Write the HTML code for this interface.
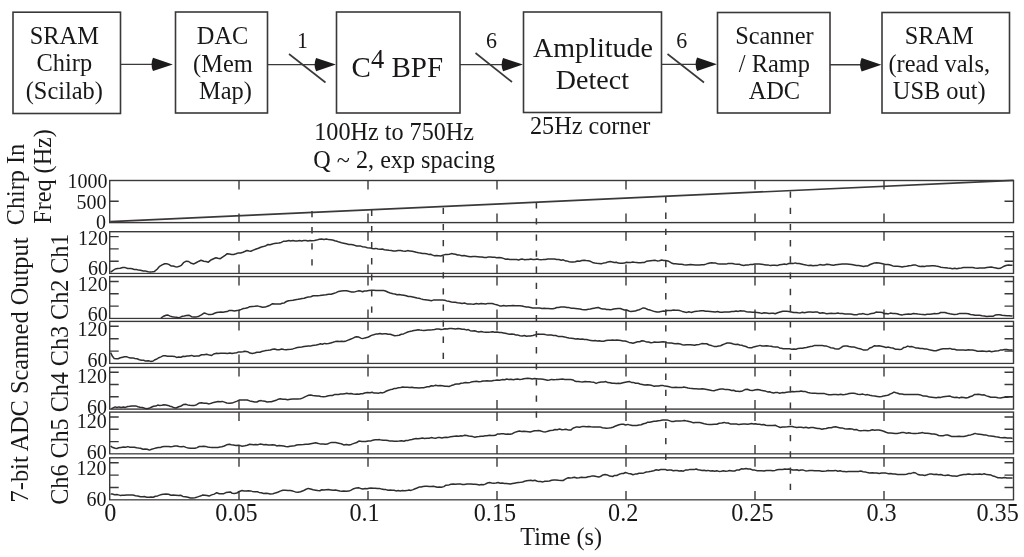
<!DOCTYPE html>
<html><head><meta charset="utf-8"><title>C4 BPF chirp response</title>
<style>
html,body{margin:0;padding:0;background:#fff;}
body{width:1024px;height:557px;overflow:hidden;}
svg text{font-family:"Liberation Serif", "Times New Roman", serif;fill:#1a1718;}
#fig{filter:blur(0.35px);}
</style></head>
<body>
<svg id="fig" width="1024" height="557" viewBox="0 0 1024 557">
<rect x="13.0" y="12.2" width="107.5" height="101.3" fill="none" stroke="#3b3839" stroke-width="1.6"/>
<rect x="175.5" y="12.0" width="92.0" height="101.0" fill="none" stroke="#3b3839" stroke-width="1.6"/>
<rect x="336.5" y="12.0" width="123.5" height="101.0" fill="none" stroke="#3b3839" stroke-width="1.6"/>
<rect x="523.5" y="12.0" width="138.0" height="100.5" fill="none" stroke="#3b3839" stroke-width="1.6"/>
<rect x="717.5" y="12.5" width="112.5" height="100.5" fill="none" stroke="#3b3839" stroke-width="1.6"/>
<rect x="882.0" y="12.5" width="127.5" height="100.5" fill="none" stroke="#3b3839" stroke-width="1.6"/>
<line x1="120.5" y1="64.4" x2="154.0" y2="64.4" stroke="#3b3839" stroke-width="1.35"/>
<path d="M172.8 64.4L153.0 57.7Q150.0 64.4 153.0 71.1Z" fill="#1c1a1a"/>
<line x1="267.5" y1="64.6" x2="317.1" y2="64.6" stroke="#3b3839" stroke-width="1.35"/>
<path d="M335.9 64.6L316.1 57.9Q313.1 64.6 316.1 71.3Z" fill="#1c1a1a"/>
<line x1="460.0" y1="64.6" x2="504.1" y2="64.6" stroke="#3b3839" stroke-width="1.35"/>
<path d="M522.9 64.6L503.1 57.9Q500.1 64.6 503.1 71.3Z" fill="#1c1a1a"/>
<line x1="661.5" y1="64.3" x2="698.1" y2="64.3" stroke="#3b3839" stroke-width="1.35"/>
<path d="M716.9 64.3L697.1 57.6Q694.1 64.3 697.1 71.0Z" fill="#1c1a1a"/>
<line x1="830.0" y1="64.7" x2="862.6" y2="64.7" stroke="#3b3839" stroke-width="1.35"/>
<path d="M881.4 64.7L861.6 58.0Q858.6 64.7 861.6 71.4Z" fill="#1c1a1a"/>
<line x1="289.0" y1="54.0" x2="325.5" y2="82.5" stroke="#3b3839" stroke-width="1.6"/>
<line x1="475.5" y1="53.0" x2="512.0" y2="82.0" stroke="#3b3839" stroke-width="1.6"/>
<line x1="667.5" y1="54.0" x2="704.0" y2="82.5" stroke="#3b3839" stroke-width="1.6"/>
<text transform="translate(64.3 43.9) scale(1 1.060)" font-size="24.4" text-anchor="middle">SRAM</text>
<text transform="translate(64.3 71.4) scale(1 1.060)" font-size="24.4" text-anchor="middle">Chirp</text>
<text transform="translate(64.3 99.0) scale(1 1.060)" font-size="24.4" text-anchor="middle">(Scilab)</text>
<text transform="translate(222.6 44.2) scale(1 1.060)" font-size="24.4" text-anchor="middle">DAC</text>
<text transform="translate(222.9 72.0) scale(1 1.060)" font-size="24.4" text-anchor="middle">(Mem</text>
<text transform="translate(225.4 99.2) scale(1 1.060)" font-size="24.4" text-anchor="middle">Map)</text>
<text transform="translate(351.6 76.9) scale(1 1.03)" font-size="29" text-anchor="start">C<tspan dy="-8.2" font-size="26.5">4</tspan><tspan dy="8.2"> BPF</tspan></text>
<text x="593.0" y="57.0" font-size="28.0" text-anchor="middle">Amplitude</text>
<text x="592.4" y="88.8" font-size="28.0" text-anchor="middle">Detect</text>
<text transform="translate(774.4 43.9) scale(1 1.060)" font-size="24.4" text-anchor="middle">Scanner</text>
<text transform="translate(774.4 72.0) scale(1 1.060)" font-size="24.4" text-anchor="middle">/ Ramp</text>
<text transform="translate(774.4 99.2) scale(1 1.060)" font-size="24.4" text-anchor="middle">ADC</text>
<text transform="translate(939.2 43.9) scale(1 1.060)" font-size="24.4" text-anchor="middle">SRAM</text>
<text transform="translate(939.2 72.0) scale(1 1.060)" font-size="24.4" text-anchor="middle">(read vals,</text>
<text transform="translate(939.2 99.2) scale(1 1.060)" font-size="24.4" text-anchor="middle">USB out)</text>
<text transform="translate(302.5 47.5) scale(1 1.060)" font-size="22.0" text-anchor="middle">1</text>
<text transform="translate(491.5 47.5) scale(1 1.060)" font-size="22.0" text-anchor="middle">6</text>
<text transform="translate(681.8 47.5) scale(1 1.060)" font-size="22.0" text-anchor="middle">6</text>
<text transform="translate(314.2 140.0) scale(1 1.060)" font-size="24.2" text-anchor="start">100Hz to 750Hz</text>
<text transform="translate(313.3 167.9) scale(1 1.060)" font-size="24.2" text-anchor="start">Q ~ 2, exp spacing</text>
<text transform="translate(530.0 134.0) scale(1 1.060)" font-size="24.2" text-anchor="start">25Hz corner</text>
<text transform="translate(23.8 225.2) rotate(-90) scale(1 1.060)" font-size="24.2">Chirp In</text>
<text transform="translate(51.0 223.8) rotate(-90) scale(1 1.060)" font-size="24.2">Freq (Hz)</text>
<text transform="translate(27.7 502.4) rotate(-90) scale(1 1.060)" font-size="24.4">7-bit ADC Scanned Output</text>
<text transform="translate(67.6 504.7) rotate(-90) scale(1 1.060)" font-size="24.1">Ch6 Ch5 Ch4 Ch3 Ch2 Ch1</text>
<rect x="109.7" y="180.5" width="903.8" height="42.1" fill="none" stroke="#3b3839" stroke-width="1.4"/>
<path d="M239.0 180.5v9.0M239.0 222.6v-9.0M368.0 180.5v9.0M368.0 222.6v-9.0M497.0 180.5v9.0M497.0 222.6v-9.0M626.0 180.5v9.0M626.0 222.6v-9.0M755.0 180.5v9.0M755.0 222.6v-9.0M884.0 180.5v9.0M884.0 222.6v-9.0M109.7 201.2h9.0M1013.5 201.2h-9.0" stroke="#3b3839" stroke-width="1.4" fill="none"/>
<line x1="110.2" y1="221.7" x2="1013.5" y2="180.4" stroke="#3b3839" stroke-width="1.7"/>
<text x="107.5" y="187.8" font-size="20.0" text-anchor="end">1000</text>
<text x="106.6" y="208.8" font-size="20.0" text-anchor="end">500</text>
<text x="106.0" y="228.6" font-size="20.0" text-anchor="end">0</text>
<svg x="0" y="228.7" width="1024" height="45.6" viewBox="0 228.7 1024 45.6" overflow="hidden">
<rect x="109.7" y="231.7" width="903.8" height="41.8" fill="none" stroke="#3b3839" stroke-width="1.4"/>
<path d="M239.0 231.7v9.0M239.0 273.5v-9.0M368.0 231.7v9.0M368.0 273.5v-9.0M497.0 231.7v9.0M497.0 273.5v-9.0M626.0 231.7v9.0M626.0 273.5v-9.0M755.0 231.7v9.0M755.0 273.5v-9.0M884.0 231.7v9.0M884.0 273.5v-9.0M109.7 261.2h9.0M1013.5 261.2h-9.0M109.7 248.9h9.0M1013.5 248.9h-9.0M109.7 236.6h9.0M1013.5 236.6h-9.0" stroke="#3b3839" stroke-width="1.4" fill="none"/>
<path d="M110.6 272.2 L112.4 270.9 L115.2 269.0 L117.5 268.6 L120.2 268.2 L122.8 267.6 L125.2 267.6 L127.7 268.5 L130.4 268.4 L132.3 268.7 L134.4 269.6 L136.5 269.5 L138.6 270.1 L140.5 270.2 L143.3 270.9 L145.8 271.1 L148.2 271.8 L150.4 272.1 L152.5 271.8 L154.5 271.4 L157.1 269.2 L159.6 266.3 L162.1 264.9 L164.7 263.7 L166.7 263.8 L168.8 264.4 L171.0 265.9 L173.2 266.1 L175.5 266.7 L177.4 266.9 L179.4 266.3 L181.2 265.4 L183.5 262.7 L186.3 261.2 L188.7 261.5 L191.3 263.3 L193.9 263.9 L196.5 262.5 L199.0 261.2 L201.0 260.3 L203.8 261.2 L206.0 261.6 L208.3 262.2 L211.4 259.7 L213.6 258.7 L215.9 257.7 L217.9 258.3 L220.3 258.7 L222.5 257.2 L225.1 255.4 L227.3 253.7 L229.4 254.0 L231.7 254.5 L233.7 254.4 L236.0 253.8 L238.4 252.9 L240.6 253.0 L243.0 252.2 L245.2 251.3 L247.0 250.5 L249.1 251.0 L250.8 251.2 L253.3 250.1 L255.5 249.3 L258.4 248.3 L260.7 247.2 L263.2 246.6 L266.0 245.7 L268.0 244.5 L270.1 244.7 L272.4 244.0 L274.5 243.4 L276.2 243.2 L278.9 242.9 L281.2 242.4 L283.4 241.3 L285.9 241.3 L288.9 240.5 L290.8 241.0 L292.9 240.6 L295.1 241.0 L297.4 241.0 L299.6 240.6 L301.6 241.0 L303.8 240.5 L305.9 240.4 L308.0 240.9 L309.9 240.6 L311.7 240.7 L314.4 240.5 L316.7 240.1 L319.3 239.3 L321.6 239.0 L324.0 239.5 L326.4 239.0 L328.5 239.6 L330.7 239.8 L332.6 240.0 L334.8 240.7 L336.9 241.3 L339.2 242.1 L341.5 242.7 L343.7 243.2 L346.3 243.8 L348.8 244.4 L351.3 244.5 L354.0 245.1 L356.7 246.0 L358.9 246.1 L360.7 246.1 L362.6 246.7 L364.7 246.9 L367.3 247.7 L370.2 247.9 L372.0 248.5 L373.9 248.7 L375.8 248.4 L378.0 249.0 L380.4 249.2 L382.3 249.0 L384.4 249.7 L386.6 249.9 L388.9 250.3 L391.2 250.4 L393.4 250.9 L395.6 251.1 L398.1 250.6 L400.5 250.6 L403.0 251.0 L405.4 251.2 L407.6 250.6 L409.6 250.9 L412.2 251.3 L414.3 251.7 L416.3 252.3 L418.5 252.8 L420.4 253.1 L422.4 253.5 L424.5 253.5 L426.6 253.8 L428.6 254.4 L430.6 254.2 L432.6 255.1 L434.5 255.7 L436.6 255.6 L438.8 255.7 L440.8 256.0 L442.8 255.2 L445.0 254.6 L447.2 254.4 L449.4 254.2 L451.5 253.6 L453.6 253.9 L455.5 254.2 L457.5 255.0 L459.6 255.1 L461.8 255.8 L464.2 255.6 L466.2 256.0 L468.4 256.4 L470.7 256.8 L473.1 256.6 L475.5 256.6 L477.8 256.7 L480.0 257.1 L482.0 257.0 L484.4 257.5 L486.5 257.5 L488.5 256.9 L490.5 256.9 L492.5 257.3 L494.7 257.3 L496.8 257.7 L498.9 257.6 L501.2 257.8 L503.4 258.4 L505.7 259.2 L507.8 259.1 L509.9 259.4 L512.2 259.6 L514.4 259.6 L516.6 259.6 L518.6 260.0 L520.7 259.3 L522.6 259.1 L524.8 259.8 L526.9 259.6 L528.8 259.5 L530.8 259.0 L532.8 259.4 L534.9 259.4 L537.0 259.0 L539.0 259.5 L541.0 259.7 L542.9 259.6 L545.4 259.4 L547.7 258.9 L550.5 258.9 L552.4 258.9 L554.4 258.9 L556.7 259.5 L559.0 259.5 L561.2 260.2 L563.2 259.8 L565.4 260.9 L567.3 261.1 L569.3 261.7 L571.2 262.0 L573.4 262.1 L575.4 261.8 L577.4 261.0 L579.6 261.3 L581.8 260.5 L584.0 260.3 L586.1 260.6 L588.2 260.8 L590.4 261.3 L592.5 262.4 L594.7 262.9 L596.8 263.2 L598.8 263.4 L601.2 263.8 L603.5 263.1 L605.8 262.8 L608.0 261.9 L610.2 261.6 L612.3 261.9 L614.3 262.4 L616.3 262.2 L618.3 263.1 L620.3 263.3 L622.3 263.2 L624.4 263.1 L626.4 262.2 L628.5 262.5 L630.5 262.6 L632.5 262.0 L634.5 262.3 L636.6 262.5 L638.6 262.8 L640.6 262.7 L642.6 262.5 L644.5 262.4 L646.4 261.3 L648.5 261.0 L650.8 260.7 L652.7 260.5 L654.9 260.3 L657.1 260.9 L659.4 260.7 L661.6 260.0 L663.7 260.4 L665.5 260.4 L667.9 260.9 L669.7 261.8 L671.4 263.0 L673.6 263.7 L675.4 263.8 L677.4 263.9 L679.5 264.3 L681.7 264.3 L684.0 264.7 L686.3 265.0 L688.4 264.8 L690.6 264.6 L692.9 264.7 L695.3 264.9 L697.5 265.1 L699.7 265.1 L701.6 264.7 L704.0 264.7 L706.0 264.1 L707.9 263.4 L709.8 262.9 L711.7 262.8 L713.7 263.0 L715.7 263.1 L717.6 263.7 L719.7 263.9 L721.9 263.9 L723.9 264.1 L726.0 264.1 L728.2 263.5 L730.4 263.6 L732.5 263.5 L734.6 263.9 L737.0 264.2 L739.3 264.2 L741.5 265.1 L743.7 265.4 L746.0 265.1 L748.2 265.1 L750.4 264.4 L752.6 264.4 L754.9 263.9 L757.4 263.9 L759.4 264.0 L761.4 264.2 L763.6 264.6 L765.8 264.9 L768.0 264.9 L770.3 265.6 L772.7 265.2 L774.9 265.2 L777.2 265.6 L779.6 264.7 L782.0 264.4 L784.4 264.1 L786.6 264.4 L788.7 263.5 L790.5 263.2 L793.2 263.6 L795.2 262.9 L796.9 263.5 L799.1 263.5 L801.2 264.0 L803.5 264.6 L805.8 264.9 L808.3 265.6 L810.8 265.2 L813.0 265.8 L815.2 265.5 L817.6 265.4 L819.9 264.6 L822.2 264.9 L824.3 264.9 L826.8 264.3 L829.1 264.6 L831.4 264.9 L833.6 265.3 L835.7 264.8 L838.0 264.5 L840.1 264.2 L842.2 264.1 L844.8 264.1 L846.9 264.0 L849.2 264.2 L851.7 264.6 L854.2 265.0 L856.5 265.4 L858.6 265.4 L861.3 265.9 L863.6 266.4 L865.7 265.9 L867.7 265.9 L870.1 264.5 L872.2 263.7 L874.6 262.9 L876.7 262.8 L879.0 263.0 L881.4 263.4 L883.7 264.0 L885.9 264.6 L888.1 264.5 L890.4 265.0 L892.8 265.9 L895.0 266.3 L897.3 266.3 L899.8 266.5 L902.1 266.9 L904.3 266.5 L906.7 266.3 L909.0 265.8 L911.2 265.5 L913.4 265.1 L915.7 265.1 L917.9 265.9 L920.2 266.5 L922.5 266.2 L924.7 266.5 L926.8 265.9 L929.1 266.0 L931.7 265.8 L933.7 265.7 L936.0 266.1 L938.4 266.4 L940.8 267.2 L943.2 267.6 L945.4 267.7 L947.9 268.1 L950.2 268.2 L952.5 268.7 L954.7 268.2 L956.8 268.8 L959.1 268.2 L961.3 267.9 L963.4 267.5 L966.0 267.6 L968.0 267.6 L970.3 267.5 L972.7 267.6 L975.1 268.0 L977.5 268.2 L979.7 267.9 L982.2 268.1 L984.5 268.1 L986.8 267.5 L989.0 267.2 L991.1 267.1 L993.6 267.6 L996.0 267.9 L998.2 268.4 L1000.2 268.3 L1002.4 267.2 L1004.1 266.2 L1006.0 265.5 L1008.4 265.1 L1010.8 265.3 L1012.5 265.3" fill="none" stroke="#302d2e" stroke-width="1.50" stroke-linejoin="round"/>
</svg>
<text x="108.0" y="244.5" font-size="20.0" text-anchor="end">120</text>
<text x="108.0" y="274.8" font-size="20.0" text-anchor="end">60</text>
<svg x="0" y="273.6" width="1024" height="45.7" viewBox="0 273.6 1024 45.7" overflow="hidden">
<rect x="109.7" y="276.6" width="903.8" height="41.9" fill="none" stroke="#3b3839" stroke-width="1.4"/>
<path d="M239.0 276.6v9.0M239.0 318.5v-9.0M368.0 276.6v9.0M368.0 318.5v-9.0M497.0 276.6v9.0M497.0 318.5v-9.0M626.0 276.6v9.0M626.0 318.5v-9.0M755.0 276.6v9.0M755.0 318.5v-9.0M884.0 276.6v9.0M884.0 318.5v-9.0M109.7 306.1h9.0M1013.5 306.1h-9.0M109.7 293.8h9.0M1013.5 293.8h-9.0M109.7 281.5h9.0M1013.5 281.5h-9.0" stroke="#3b3839" stroke-width="1.4" fill="none"/>
<path d="M160.9 318.1 L163.1 316.5 L166.0 315.3 L168.0 315.1 L170.2 316.1 L172.3 316.7 L174.3 317.1 L176.4 317.3 L178.6 317.7 L180.4 317.1 L182.4 316.2 L184.3 316.0 L186.3 315.6 L188.9 315.2 L191.6 316.7 L193.9 317.1 L196.6 316.9 L199.0 316.2 L201.4 314.8 L204.0 313.1 L206.0 313.6 L208.2 314.4 L210.4 314.4 L212.5 314.2 L214.6 313.3 L216.7 312.5 L218.8 312.2 L221.0 312.1 L223.1 312.2 L225.2 311.8 L227.2 311.6 L229.4 310.4 L231.9 310.4 L234.5 311.0 L237.0 310.5 L239.2 310.2 L241.3 309.4 L243.4 308.5 L245.5 308.2 L247.5 307.8 L249.7 306.7 L252.2 306.4 L254.8 306.3 L257.4 305.9 L259.9 306.6 L262.5 307.2 L265.0 307.1 L267.5 306.2 L270.1 305.2 L272.6 303.7 L275.0 304.0 L277.5 304.1 L280.2 304.1 L282.1 303.2 L284.2 302.9 L286.4 301.5 L288.5 300.7 L290.4 300.6 L293.0 300.3 L295.4 299.7 L298.0 299.3 L299.9 298.9 L302.0 298.5 L304.2 298.3 L306.3 297.5 L308.2 297.1 L310.8 296.7 L313.2 295.8 L315.8 295.7 L317.7 295.7 L319.8 295.5 L321.9 295.2 L324.0 294.9 L325.9 294.8 L328.6 294.2 L331.1 294.3 L333.5 293.5 L336.1 292.6 L338.6 291.4 L341.2 291.0 L343.8 290.8 L346.5 290.7 L348.8 291.3 L351.5 291.9 L353.9 292.1 L356.5 291.4 L358.9 290.8 L360.5 291.0 L362.6 291.7 L364.3 291.0 L366.4 291.0 L368.8 290.5 L371.5 290.2 L373.6 290.2 L376.0 290.4 L378.6 290.4 L381.1 290.5 L383.5 290.5 L385.5 291.0 L388.2 292.3 L390.2 293.0 L393.1 293.7 L394.9 294.0 L397.0 294.8 L399.2 294.6 L401.6 294.9 L403.9 295.2 L406.2 295.8 L408.3 296.5 L410.6 296.5 L412.8 296.9 L415.0 297.4 L417.0 297.9 L419.1 298.3 L421.0 298.9 L423.2 299.5 L425.2 299.7 L427.2 299.9 L429.1 300.3 L431.2 300.7 L433.4 300.1 L435.8 300.0 L438.2 300.1 L440.5 300.0 L442.6 300.0 L444.8 300.3 L446.7 300.9 L448.7 301.2 L451.5 301.9 L453.3 302.3 L455.3 302.2 L457.4 302.8 L459.7 303.0 L462.1 303.4 L464.5 303.0 L466.9 303.9 L469.3 303.9 L471.5 304.1 L473.8 304.2 L476.3 303.6 L478.7 303.9 L481.1 303.4 L483.5 303.7 L485.7 304.0 L487.8 303.4 L489.6 303.6 L492.1 303.6 L494.0 304.1 L495.6 304.6 L497.4 304.9 L499.7 305.9 L501.6 305.9 L503.7 305.6 L505.9 305.9 L508.3 305.8 L510.7 305.7 L513.0 305.6 L515.3 305.8 L517.5 305.8 L519.8 305.8 L522.0 306.1 L524.1 306.6 L526.2 306.9 L528.3 306.9 L530.5 307.4 L532.8 307.9 L534.9 308.1 L537.2 308.1 L539.6 307.9 L542.0 308.4 L544.3 308.3 L546.5 308.4 L548.6 308.6 L550.5 308.8 L553.0 308.8 L555.0 308.3 L556.8 307.5 L558.6 307.4 L560.7 307.0 L562.7 307.0 L564.7 307.0 L566.9 307.4 L569.1 307.6 L571.3 308.2 L573.4 308.3 L575.5 308.5 L577.7 308.8 L579.9 309.1 L582.1 309.6 L584.1 309.8 L586.1 309.8 L588.3 309.3 L590.3 309.1 L592.3 308.6 L594.2 308.2 L596.2 307.8 L598.3 307.4 L600.6 308.5 L602.8 309.0 L604.8 308.9 L606.4 309.5 L608.3 309.6 L610.2 309.8 L611.8 309.5 L613.7 309.0 L615.8 308.7 L618.0 308.5 L620.3 308.5 L622.3 309.3 L624.4 310.0 L626.6 310.0 L628.9 311.0 L631.0 311.6 L633.0 311.2 L635.2 311.1 L637.2 310.2 L639.2 309.7 L641.1 308.9 L643.2 307.9 L645.4 308.3 L647.8 309.5 L650.2 310.1 L652.5 310.9 L654.6 311.6 L657.0 311.9 L659.1 312.0 L661.2 311.4 L663.5 311.0 L665.4 311.3 L667.2 310.5 L669.1 310.5 L671.2 310.5 L673.6 310.0 L675.5 310.3 L677.7 310.3 L679.9 310.6 L682.3 311.4 L684.6 312.0 L686.8 312.4 L688.9 311.7 L691.1 312.4 L693.0 311.9 L694.8 311.4 L696.7 311.2 L698.9 311.1 L701.6 310.8 L703.5 310.7 L705.6 311.3 L707.9 311.3 L710.2 311.4 L712.7 311.7 L715.2 312.1 L717.6 311.6 L720.0 312.2 L722.3 312.3 L724.4 312.0 L726.9 312.1 L729.3 311.9 L731.7 311.5 L733.9 311.4 L736.1 311.0 L738.2 311.4 L740.3 310.7 L742.2 311.0 L744.5 311.1 L746.5 311.7 L748.4 311.9 L750.3 311.9 L752.4 312.2 L754.9 312.2 L756.9 312.4 L759.1 312.7 L761.6 313.4 L764.1 312.8 L766.6 313.0 L769.1 313.5 L771.4 313.3 L773.5 313.2 L775.2 313.8 L778.4 312.5 L780.2 312.0 L782.8 311.3 L784.6 311.3 L786.6 311.3 L788.8 311.5 L791.2 312.0 L793.5 312.5 L795.9 312.5 L798.1 312.8 L800.3 312.9 L802.4 312.2 L804.5 312.7 L806.7 312.3 L808.8 312.0 L810.8 312.0 L812.9 312.3 L815.3 312.1 L817.6 312.1 L820.0 313.2 L822.2 312.8 L824.5 313.1 L826.6 313.8 L829.0 313.4 L831.1 313.3 L833.2 313.4 L835.5 313.4 L838.0 313.0 L840.1 313.6 L842.4 313.6 L844.9 313.9 L847.4 314.1 L849.8 314.0 L852.0 314.3 L854.0 314.8 L856.9 314.7 L859.3 313.9 L861.3 313.9 L863.1 313.6 L865.3 314.3 L867.7 314.6 L869.4 314.1 L871.5 313.6 L873.8 313.3 L876.0 312.1 L878.0 312.3 L880.2 312.2 L882.2 312.4 L884.1 313.7 L886.0 313.4 L888.3 313.9 L890.4 313.1 L892.8 313.4 L894.9 313.6 L897.1 313.8 L899.5 314.5 L902.0 315.1 L904.1 314.4 L906.3 314.2 L908.6 314.0 L910.9 314.2 L913.4 313.6 L915.6 313.7 L918.0 314.1 L920.4 314.3 L922.8 314.4 L925.1 314.7 L927.1 314.3 L929.8 314.2 L932.1 313.9 L934.3 313.6 L936.3 313.8 L938.6 313.6 L940.6 312.5 L943.1 312.6 L945.1 312.5 L947.4 313.2 L949.9 313.8 L952.3 314.2 L954.5 314.6 L957.0 314.3 L959.2 313.6 L961.5 313.6 L963.7 313.6 L966.0 313.6 L968.3 313.7 L970.5 314.5 L972.8 314.7 L975.1 315.2 L977.4 315.2 L979.7 315.3 L982.0 315.7 L984.3 315.9 L986.7 316.4 L989.0 316.3 L991.1 316.3 L993.3 316.2 L995.2 315.1 L998.0 314.7 L999.8 314.7 L1002.0 315.3 L1004.4 315.5 L1006.9 315.7 L1009.2 315.7 L1011.1 315.9 L1012.5 316.1" fill="none" stroke="#302d2e" stroke-width="1.50" stroke-linejoin="round"/>
</svg>
<text x="107.8" y="290.6" font-size="20.0" text-anchor="end">120</text>
<text x="107.8" y="321.2" font-size="20.0" text-anchor="end">60</text>
<svg x="0" y="318.4" width="1024" height="45.9" viewBox="0 318.4 1024 45.9" overflow="hidden">
<rect x="109.7" y="321.4" width="903.8" height="42.1" fill="none" stroke="#3b3839" stroke-width="1.4"/>
<path d="M239.0 321.4v9.0M239.0 363.5v-9.0M368.0 321.4v9.0M368.0 363.5v-9.0M497.0 321.4v9.0M497.0 363.5v-9.0M626.0 321.4v9.0M626.0 363.5v-9.0M755.0 321.4v9.0M755.0 363.5v-9.0M884.0 321.4v9.0M884.0 363.5v-9.0M109.7 351.1h9.0M1013.5 351.1h-9.0M109.7 338.7h9.0M1013.5 338.7h-9.0M109.7 326.3h9.0M1013.5 326.3h-9.0" stroke="#3b3839" stroke-width="1.4" fill="none"/>
<path d="M110.6 352.6 L112.6 356.6 L114.2 358.4 L116.4 358.7 L118.2 358.7 L120.3 357.8 L122.8 357.2 L124.5 356.8 L126.4 356.8 L128.5 357.4 L130.7 357.9 L132.9 357.9 L134.9 358.5 L137.1 358.8 L139.4 359.7 L141.6 360.3 L143.7 360.3 L145.6 361.1 L148.4 360.7 L150.7 361.4 L153.2 361.0 L155.0 359.7 L156.9 359.0 L158.8 357.7 L161.0 356.9 L163.4 355.7 L165.4 355.8 L167.5 356.2 L169.8 356.2 L172.2 356.3 L174.5 356.4 L176.6 357.4 L178.6 357.1 L181.0 357.3 L183.2 356.3 L185.1 356.4 L187.0 356.0 L188.8 355.9 L191.5 355.4 L194.0 356.2 L196.4 356.0 L198.9 356.0 L201.5 354.8 L204.0 354.7 L206.7 354.3 L209.3 355.1 L211.7 355.4 L213.7 354.0 L216.7 353.3 L218.4 353.6 L220.4 353.2 L222.7 353.2 L225.1 353.2 L227.5 353.6 L229.9 353.1 L232.0 353.4 L234.3 353.1 L236.6 352.7 L238.8 351.9 L240.9 351.9 L242.9 351.8 L244.7 351.2 L247.6 351.7 L250.0 353.1 L252.3 353.4 L254.6 353.0 L257.0 352.3 L259.9 352.2 L261.7 351.5 L263.7 351.1 L265.8 350.5 L268.0 350.3 L270.3 350.0 L272.6 349.3 L274.7 349.0 L277.0 349.8 L279.3 349.7 L281.7 349.1 L283.9 349.6 L286.0 349.7 L287.8 349.4 L290.7 349.3 L292.8 348.9 L295.5 348.1 L297.4 347.6 L299.5 347.2 L301.7 346.9 L304.0 346.5 L306.2 346.2 L308.2 346.0 L310.4 346.1 L312.4 345.5 L314.4 345.3 L316.3 345.1 L318.3 344.6 L320.4 343.8 L322.4 344.2 L324.5 343.4 L326.5 343.7 L328.5 343.5 L330.8 342.9 L333.0 342.3 L335.2 341.6 L337.4 341.3 L339.6 341.6 L341.7 341.3 L343.9 341.5 L346.2 340.9 L348.2 340.1 L350.4 339.2 L352.5 338.4 L354.6 337.3 L356.4 336.7 L358.8 337.1 L360.8 338.1 L362.6 338.6 L364.9 337.9 L367.7 337.2 L369.4 336.5 L371.4 335.4 L373.6 334.8 L375.8 334.1 L377.9 333.9 L379.9 333.4 L382.0 333.9 L384.1 333.8 L386.1 333.8 L388.0 334.3 L390.3 334.2 L392.5 335.0 L394.7 335.7 L396.9 335.5 L399.1 335.2 L401.3 334.2 L403.5 333.9 L405.8 332.9 L407.8 332.0 L409.8 331.4 L411.9 331.1 L413.9 330.6 L416.0 330.2 L418.0 329.8 L419.9 330.1 L421.9 330.3 L423.9 330.4 L426.1 330.2 L428.1 330.0 L430.1 329.9 L432.3 329.8 L434.5 329.5 L436.7 329.0 L438.8 329.0 L440.9 329.5 L443.0 329.2 L445.1 328.8 L447.3 329.0 L449.4 328.5 L451.5 328.5 L453.6 328.7 L455.7 328.9 L457.9 328.4 L460.0 328.8 L462.1 329.3 L464.2 329.3 L466.3 329.9 L468.2 329.6 L470.2 330.7 L472.3 331.1 L474.5 330.8 L476.9 331.5 L478.9 331.9 L481.1 331.6 L483.4 332.0 L485.8 332.2 L488.2 332.2 L490.5 332.0 L492.7 331.7 L494.7 332.2 L497.1 332.1 L499.3 332.6 L501.4 332.6 L503.4 332.9 L505.3 333.3 L507.4 333.8 L509.5 334.2 L511.7 334.1 L513.9 334.2 L516.1 335.1 L518.1 335.1 L520.1 335.7 L522.3 336.0 L524.4 335.5 L526.5 336.2 L528.4 335.9 L530.2 335.9 L532.9 335.4 L535.4 334.8 L537.8 334.1 L539.6 334.2 L541.3 334.2 L543.2 334.3 L545.5 334.6 L547.3 335.1 L549.2 334.9 L551.3 335.0 L553.5 335.4 L555.8 335.5 L558.1 336.4 L560.1 336.5 L562.3 336.4 L564.5 336.9 L566.7 337.5 L569.0 337.9 L571.2 338.2 L573.4 338.6 L575.6 339.1 L577.8 338.8 L580.1 339.3 L582.3 339.1 L584.4 339.6 L586.6 339.6 L588.6 340.1 L590.9 340.4 L593.1 340.8 L595.2 340.6 L597.3 341.0 L599.3 340.8 L601.3 341.3 L603.7 341.2 L606.0 340.6 L608.3 340.2 L610.5 340.2 L612.7 340.1 L614.8 340.2 L616.9 340.0 L618.9 340.3 L620.9 340.6 L622.9 340.9 L624.9 341.1 L627.0 341.6 L629.1 342.4 L631.1 342.7 L633.0 343.2 L635.3 342.5 L637.5 341.8 L639.7 341.8 L641.9 340.8 L644.1 341.1 L646.3 341.9 L648.5 342.0 L650.8 342.8 L652.7 342.6 L654.6 342.1 L656.6 342.3 L658.7 342.3 L660.9 341.9 L662.9 341.7 L664.9 341.9 L667.1 342.7 L669.3 343.0 L671.5 343.1 L673.6 343.4 L675.7 343.7 L677.9 343.6 L680.1 343.9 L682.3 344.7 L684.3 345.0 L686.3 344.8 L688.5 344.8 L690.7 344.7 L692.7 345.0 L694.7 345.3 L696.5 344.7 L699.3 344.4 L701.8 343.6 L704.1 343.8 L706.7 343.8 L709.2 345.0 L711.5 345.6 L714.0 346.4 L716.8 346.5 L718.6 346.1 L720.6 345.7 L722.6 344.8 L724.8 343.9 L727.0 343.0 L729.0 342.9 L731.1 343.2 L733.4 344.0 L735.6 344.4 L737.7 344.3 L739.7 345.0 L741.9 345.3 L743.9 346.1 L745.9 346.5 L747.8 347.4 L749.8 347.7 L751.8 347.7 L753.6 346.9 L755.6 346.4 L757.6 346.1 L760.0 345.4 L762.0 346.0 L764.1 346.0 L766.4 345.7 L768.8 346.0 L771.1 346.2 L773.2 346.8 L775.2 346.9 L777.5 346.9 L779.5 347.9 L781.4 348.3 L783.3 348.7 L785.4 348.7 L787.4 348.8 L789.5 348.8 L791.8 349.3 L794.0 348.9 L796.1 349.2 L798.1 348.4 L800.3 348.2 L802.5 348.3 L804.5 347.8 L806.4 347.5 L808.3 347.0 L810.4 346.6 L812.3 346.3 L814.2 345.6 L816.3 345.4 L818.2 345.6 L820.3 345.4 L822.4 345.6 L824.5 345.9 L826.6 346.1 L828.7 346.9 L830.8 347.7 L832.9 347.9 L834.9 348.8 L836.8 349.0 L839.0 348.9 L841.0 347.7 L842.9 346.3 L844.8 345.9 L847.0 346.0 L849.1 346.5 L851.7 346.9 L853.8 346.9 L856.3 347.8 L858.8 348.6 L861.2 349.1 L863.1 349.9 L865.7 349.9 L867.7 349.8 L869.7 348.0 L872.1 347.2 L874.6 345.7 L876.7 345.9 L879.0 345.8 L881.4 346.3 L883.7 346.8 L886.0 347.4 L888.4 347.1 L890.7 347.8 L892.8 348.0 L895.2 349.2 L897.4 349.3 L899.7 349.5 L901.6 349.3 L903.6 347.6 L905.7 347.2 L907.7 346.1 L909.7 346.8 L911.6 346.5 L913.6 347.1 L915.7 347.9 L917.9 348.0 L920.2 348.6 L922.5 348.5 L924.8 348.9 L927.0 349.1 L929.3 349.8 L931.5 350.2 L934.0 350.8 L936.1 350.8 L938.4 350.0 L940.7 349.2 L943.1 348.8 L945.4 348.7 L947.7 348.8 L950.0 348.4 L952.2 349.2 L954.5 349.3 L956.8 350.0 L959.0 350.0 L961.2 350.0 L963.5 350.1 L965.8 350.2 L968.2 349.8 L970.4 350.1 L972.6 350.1 L975.0 350.4 L977.3 351.3 L979.7 351.2 L982.0 351.1 L984.4 351.2 L986.8 351.4 L989.3 351.1 L991.6 351.7 L993.8 351.3 L995.7 350.9 L998.4 350.8 L1000.3 350.1 L1002.5 349.9 L1004.5 349.5 L1006.7 349.5 L1009.1 349.9 L1011.1 349.9 L1012.5 349.8" fill="none" stroke="#302d2e" stroke-width="1.50" stroke-linejoin="round"/>
</svg>
<text x="107.4" y="335.9" font-size="20.0" text-anchor="end">120</text>
<text x="107.4" y="367.0" font-size="20.0" text-anchor="end">60</text>
<svg x="0" y="364.4" width="1024" height="45.5" viewBox="0 364.4 1024 45.5" overflow="hidden">
<rect x="109.7" y="367.4" width="903.8" height="41.7" fill="none" stroke="#3b3839" stroke-width="1.4"/>
<path d="M239.0 367.4v9.0M239.0 409.1v-9.0M368.0 367.4v9.0M368.0 409.1v-9.0M497.0 367.4v9.0M497.0 409.1v-9.0M626.0 367.4v9.0M626.0 409.1v-9.0M755.0 367.4v9.0M755.0 409.1v-9.0M884.0 367.4v9.0M884.0 409.1v-9.0M109.7 396.8h9.0M1013.5 396.8h-9.0M109.7 384.5h9.0M1013.5 384.5h-9.0M109.7 372.3h9.0M1013.5 372.3h-9.0" stroke="#3b3839" stroke-width="1.4" fill="none"/>
<path d="M111.3 408.7 L112.6 408.1 L115.2 406.9 L116.9 407.5 L119.0 406.9 L121.2 407.4 L123.4 406.9 L125.3 407.4 L127.7 406.5 L129.7 406.3 L131.7 405.9 L133.7 405.9 L135.7 405.9 L138.0 406.7 L140.0 407.3 L142.3 407.4 L144.6 408.3 L146.9 408.8 L149.1 408.3 L151.3 407.2 L153.5 406.2 L155.8 406.1 L157.7 405.1 L159.7 405.4 L161.8 405.3 L163.9 404.8 L165.9 405.1 L168.0 405.4 L170.1 406.3 L172.2 406.8 L174.2 407.8 L176.1 408.0 L178.7 406.8 L181.1 406.0 L183.7 404.4 L185.6 404.3 L187.7 404.9 L189.9 405.3 L192.0 405.5 L193.9 405.6 L196.6 404.7 L199.1 403.1 L201.5 402.8 L204.0 403.2 L206.5 403.3 L209.1 403.9 L211.3 403.2 L213.6 402.4 L215.9 401.9 L218.0 401.5 L220.3 401.8 L222.3 401.4 L224.4 402.1 L226.8 403.0 L229.4 403.3 L232.0 403.1 L234.5 402.1 L237.1 401.1 L239.6 399.9 L242.1 399.9 L244.7 400.0 L247.2 400.0 L249.8 400.9 L252.4 401.4 L254.8 401.9 L256.9 402.0 L258.8 401.0 L261.2 400.6 L263.0 401.1 L265.0 401.3 L267.2 402.0 L269.3 401.7 L271.3 401.8 L273.7 401.0 L276.1 400.3 L278.3 399.2 L280.2 398.8 L282.8 399.3 L285.3 399.2 L287.6 399.8 L290.3 399.2 L292.9 399.0 L295.3 398.9 L297.8 399.1 L300.5 398.7 L302.4 398.1 L304.4 397.1 L306.5 396.1 L308.6 395.3 L310.7 394.9 L312.8 395.4 L314.9 395.7 L316.9 396.1 L318.9 396.1 L320.8 396.6 L323.5 396.7 L325.8 396.4 L328.5 395.7 L330.4 395.6 L332.4 395.5 L334.4 394.6 L336.5 394.4 L338.6 394.4 L340.6 393.9 L342.7 394.1 L344.7 393.7 L346.8 393.3 L348.8 393.7 L350.9 393.4 L353.2 394.0 L355.3 394.2 L357.3 394.0 L358.9 394.3 L360.9 393.7 L362.6 393.7 L364.7 393.0 L367.3 392.4 L370.2 392.8 L372.1 392.2 L374.1 393.1 L376.2 393.0 L378.3 393.3 L380.4 392.6 L382.4 392.9 L384.5 392.2 L386.5 391.0 L388.6 390.3 L390.6 389.6 L392.5 389.3 L394.4 388.4 L396.3 388.4 L398.3 387.7 L400.7 387.6 L402.7 387.1 L404.9 387.3 L407.3 387.2 L409.7 387.4 L412.0 387.2 L414.2 387.7 L416.0 387.7 L419.0 387.9 L421.2 387.8 L423.6 387.7 L425.4 387.3 L427.2 386.8 L429.2 386.8 L431.3 385.8 L433.7 385.9 L435.7 385.3 L437.8 385.7 L440.2 385.6 L442.5 385.8 L444.9 386.3 L447.0 386.2 L449.0 386.5 L451.3 385.6 L453.2 385.1 L454.9 384.3 L456.8 383.9 L459.1 384.0 L461.0 383.3 L463.2 383.0 L465.4 382.6 L467.8 382.7 L470.1 382.4 L472.3 381.7 L474.4 381.4 L476.7 381.3 L478.9 381.7 L481.0 381.5 L483.1 381.0 L485.1 380.9 L487.0 380.8 L489.2 381.0 L491.4 380.9 L493.4 380.4 L495.4 380.3 L497.2 380.1 L499.7 380.3 L502.0 379.6 L504.8 379.7 L506.7 379.0 L508.7 379.4 L511.0 379.3 L513.3 379.7 L515.5 379.2 L517.5 379.1 L519.7 379.4 L521.8 379.3 L523.8 378.8 L525.8 378.5 L527.7 378.2 L530.0 378.4 L532.2 378.9 L534.4 378.5 L536.6 378.8 L538.7 379.1 L540.8 379.1 L543.0 379.3 L545.5 379.8 L547.4 380.2 L549.4 380.0 L551.6 379.4 L553.8 379.7 L556.0 379.6 L558.1 379.4 L560.3 379.2 L562.5 379.1 L564.8 379.6 L566.9 379.6 L569.0 379.4 L570.8 379.5 L573.0 379.9 L574.6 381.0 L576.3 381.5 L578.5 381.6 L580.4 381.8 L582.6 381.9 L585.0 381.5 L587.4 381.7 L589.5 381.7 L591.2 382.1 L594.0 382.3 L596.2 383.4 L598.6 382.4 L601.3 382.1 L603.8 381.9 L605.9 381.6 L607.8 382.6 L610.2 382.7 L612.0 383.2 L614.1 383.3 L616.3 383.6 L618.4 383.2 L620.3 383.4 L622.9 382.8 L625.3 382.3 L627.9 381.7 L629.7 381.6 L631.4 382.4 L633.3 382.4 L635.5 383.2 L638.1 383.3 L640.0 384.0 L642.3 384.5 L644.8 385.0 L647.3 384.8 L649.8 385.1 L652.2 385.6 L654.2 386.3 L655.9 385.9 L658.7 385.9 L660.9 385.5 L662.6 385.4 L664.7 386.1 L666.9 386.3 L669.3 386.8 L671.5 387.4 L673.6 387.5 L675.8 387.3 L677.9 387.6 L679.8 387.4 L681.8 387.6 L683.8 387.0 L685.8 387.4 L687.9 388.0 L689.9 388.3 L692.0 388.5 L694.0 388.7 L696.1 388.8 L698.2 388.9 L700.2 388.9 L702.2 388.8 L704.1 389.0 L706.8 389.4 L709.3 390.0 L711.7 390.6 L714.1 390.7 L716.6 389.9 L719.3 389.3 L721.2 388.9 L723.2 389.0 L725.3 389.6 L727.4 389.6 L729.5 389.7 L731.6 390.5 L733.7 390.3 L735.8 391.2 L737.8 391.2 L739.7 391.6 L742.5 390.9 L745.0 389.6 L747.3 389.2 L750.0 390.3 L752.4 390.6 L754.6 390.0 L757.4 389.6 L759.1 389.7 L761.1 390.3 L763.3 390.7 L765.5 391.1 L767.6 391.9 L769.6 391.8 L771.6 392.6 L773.5 392.9 L775.6 392.6 L777.8 392.6 L779.8 393.3 L782.0 392.6 L784.2 392.7 L786.5 392.2 L788.6 391.9 L790.5 391.8 L792.7 391.4 L794.5 391.7 L796.4 391.5 L799.1 391.5 L801.0 391.1 L803.1 391.5 L805.5 391.6 L807.9 392.5 L810.4 392.9 L812.9 393.2 L815.3 393.3 L817.4 393.4 L819.9 393.5 L822.3 393.5 L824.5 393.6 L826.7 394.2 L828.9 394.7 L831.1 394.8 L833.5 394.4 L835.9 394.5 L838.4 394.8 L840.7 394.3 L842.9 394.7 L844.8 394.5 L847.4 394.0 L849.1 393.6 L851.7 393.2 L853.5 393.3 L855.6 393.6 L857.8 394.3 L860.2 394.4 L862.8 394.1 L865.4 394.9 L867.5 394.6 L869.8 395.3 L872.3 395.8 L874.8 396.1 L877.2 396.4 L879.6 396.7 L881.8 396.5 L883.7 395.9 L886.3 395.6 L888.5 395.0 L890.4 393.9 L892.2 393.2 L894.0 392.1 L896.0 392.8 L897.8 393.2 L899.7 394.0 L902.0 394.1 L904.0 394.4 L906.2 394.5 L908.6 394.6 L911.1 394.5 L913.5 394.4 L915.7 394.6 L918.2 394.6 L920.5 394.9 L922.8 395.9 L925.0 396.1 L927.1 396.3 L929.5 397.1 L931.7 397.3 L933.9 397.5 L936.3 397.8 L938.5 397.2 L940.8 397.4 L943.2 396.7 L945.5 396.4 L947.7 396.2 L950.1 396.1 L952.2 397.1 L954.4 397.5 L956.8 397.3 L959.0 397.9 L961.4 397.3 L963.8 397.6 L966.1 398.0 L968.2 397.5 L970.4 396.5 L972.4 396.0 L974.3 394.6 L976.2 394.6 L978.2 394.3 L980.1 394.5 L982.1 394.9 L984.2 394.8 L986.4 395.9 L988.6 396.5 L990.9 397.3 L993.4 397.2 L995.6 397.3 L998.0 397.8 L1000.4 397.9 L1002.7 397.5 L1004.8 397.2 L1007.2 397.2 L1009.4 396.8 L1011.2 396.8 L1012.5 397.1" fill="none" stroke="#302d2e" stroke-width="1.50" stroke-linejoin="round"/>
</svg>
<text x="107.1" y="382.5" font-size="20.0" text-anchor="end">120</text>
<text x="107.1" y="413.5" font-size="20.0" text-anchor="end">60</text>
<svg x="0" y="409.1" width="1024" height="45.6" viewBox="0 409.1 1024 45.6" overflow="hidden">
<rect x="109.7" y="412.1" width="903.8" height="41.8" fill="none" stroke="#3b3839" stroke-width="1.4"/>
<path d="M239.0 412.1v9.0M239.0 453.9v-9.0M368.0 412.1v9.0M368.0 453.9v-9.0M497.0 412.1v9.0M497.0 453.9v-9.0M626.0 412.1v9.0M626.0 453.9v-9.0M755.0 412.1v9.0M755.0 453.9v-9.0M884.0 412.1v9.0M884.0 453.9v-9.0M109.7 441.6h9.0M1013.5 441.6h-9.0M109.7 429.3h9.0M1013.5 429.3h-9.0M109.7 417.0h9.0M1013.5 417.0h-9.0" stroke="#3b3839" stroke-width="1.4" fill="none"/>
<path d="M110.6 446.0 L112.1 447.2 L115.2 448.3 L116.8 448.5 L118.8 447.8 L121.0 447.4 L123.4 447.1 L125.7 447.2 L127.9 446.6 L130.0 447.2 L132.2 447.3 L134.4 447.2 L136.6 447.8 L138.6 448.1 L140.5 448.3 L143.0 449.2 L145.2 448.9 L147.3 449.2 L149.4 450.1 L151.6 449.3 L153.8 448.6 L156.0 448.0 L158.3 447.5 L160.2 447.6 L162.2 446.8 L164.2 446.5 L166.3 446.6 L168.5 446.4 L170.5 446.7 L172.6 446.5 L174.8 446.1 L177.0 446.0 L179.1 446.5 L181.2 446.8 L183.6 446.4 L186.0 447.4 L188.3 448.1 L190.5 448.3 L192.6 448.2 L195.0 448.3 L197.1 447.6 L199.2 446.5 L201.5 446.5 L203.5 446.2 L205.5 446.4 L207.6 447.0 L209.6 447.3 L211.7 447.5 L213.8 447.6 L215.9 447.6 L217.9 447.4 L219.9 447.1 L221.8 446.8 L224.3 446.0 L226.6 444.8 L229.4 444.3 L231.3 444.8 L233.4 444.9 L235.8 445.4 L238.1 445.2 L240.2 445.6 L242.1 446.2 L244.9 445.7 L247.2 445.2 L249.7 444.3 L251.5 444.4 L253.5 444.7 L255.5 444.4 L257.7 444.7 L259.9 444.1 L261.8 444.3 L263.9 444.7 L265.9 444.6 L268.1 445.0 L270.3 445.0 L272.6 444.8 L274.7 445.0 L276.8 445.9 L279.1 445.5 L281.3 445.8 L283.6 446.1 L285.7 446.5 L287.8 446.7 L290.1 446.2 L292.4 446.0 L294.6 445.8 L296.7 445.0 L298.7 444.7 L300.5 444.7 L303.4 444.6 L305.8 444.3 L308.2 444.3 L310.7 443.7 L313.3 443.2 L315.8 442.8 L318.2 443.4 L320.7 444.1 L323.4 444.1 L325.3 444.3 L327.3 444.1 L329.3 443.1 L331.4 442.4 L333.5 442.5 L335.6 442.6 L337.7 443.0 L339.8 443.4 L341.8 444.0 L343.7 444.9 L346.4 444.5 L348.9 445.0 L351.3 444.4 L354.0 443.4 L356.7 442.5 L358.9 441.1 L362.0 441.5 L363.7 441.6 L365.8 441.6 L368.1 441.1 L370.2 441.1 L372.7 440.2 L375.2 439.8 L377.9 439.7 L379.6 439.6 L381.4 440.1 L383.3 440.2 L385.4 440.3 L388.0 440.5 L389.9 441.1 L392.1 441.1 L394.4 441.3 L396.9 441.2 L399.3 441.1 L401.7 440.7 L403.9 441.2 L405.8 440.5 L408.2 440.4 L410.2 439.8 L411.9 439.4 L413.8 438.9 L416.0 438.6 L417.9 438.7 L420.1 438.4 L422.3 438.1 L424.6 438.4 L426.9 438.3 L429.1 438.3 L431.2 437.6 L433.5 438.0 L435.6 438.2 L437.7 437.6 L439.8 437.5 L441.8 437.9 L443.9 437.4 L446.0 437.2 L448.2 437.4 L450.4 436.8 L452.6 436.4 L454.6 436.2 L456.6 436.1 L458.8 436.2 L460.8 435.8 L462.8 435.9 L464.7 435.3 L466.7 435.5 L468.7 436.0 L470.8 436.2 L472.8 436.6 L474.9 437.2 L476.9 436.8 L479.0 436.6 L481.1 436.2 L483.2 436.2 L485.2 435.8 L487.0 435.7 L489.4 435.3 L491.4 435.4 L493.4 435.6 L495.4 435.3 L497.3 434.1 L499.7 434.0 L501.5 433.8 L503.6 433.8 L505.8 434.3 L508.0 434.0 L509.9 434.3 L512.4 433.7 L514.7 432.4 L517.5 431.5 L519.4 431.1 L521.6 431.5 L523.9 431.3 L526.2 431.5 L528.4 431.7 L530.2 432.0 L532.7 431.3 L534.5 430.7 L536.6 430.7 L538.7 430.5 L541.0 431.1 L543.3 431.8 L545.5 431.9 L547.9 431.2 L550.2 430.5 L553.1 430.2 L555.0 429.5 L557.2 429.7 L559.6 429.1 L561.9 429.7 L564.1 429.5 L565.8 429.2 L568.8 430.1 L570.8 430.1 L572.9 428.3 L575.9 427.1 L577.6 427.1 L579.6 427.3 L581.9 426.6 L584.2 426.5 L586.5 426.7 L588.6 426.4 L591.0 426.8 L593.4 426.9 L595.7 427.0 L597.9 426.9 L600.0 426.9 L602.4 427.8 L604.5 427.9 L606.6 428.2 L608.9 428.1 L610.9 427.8 L612.9 427.2 L615.0 426.3 L617.0 425.5 L619.0 424.7 L621.3 424.3 L623.5 424.2 L625.7 425.0 L627.9 424.4 L630.1 425.1 L632.3 425.6 L634.6 425.4 L636.8 425.4 L639.0 425.0 L641.2 424.8 L643.4 423.8 L645.7 423.3 L647.7 422.2 L649.7 422.3 L651.9 421.7 L653.9 421.3 L655.9 421.3 L658.2 420.7 L660.4 420.4 L662.6 420.0 L664.8 420.0 L667.0 419.9 L669.2 420.6 L671.4 421.4 L673.6 421.5 L675.8 421.1 L678.0 421.1 L680.3 420.9 L682.5 420.8 L684.7 420.5 L686.9 421.1 L689.1 421.6 L691.4 422.1 L693.4 422.8 L695.5 422.5 L697.6 422.5 L699.7 422.6 L701.6 423.0 L704.3 423.8 L706.8 424.2 L709.2 424.5 L711.7 424.5 L714.3 424.2 L716.8 424.3 L719.2 423.2 L721.7 423.1 L724.4 422.4 L726.2 423.1 L728.2 423.0 L730.2 423.9 L732.4 424.0 L734.6 424.0 L736.6 424.0 L738.7 424.6 L741.0 424.3 L743.2 424.1 L745.3 423.9 L747.3 424.2 L749.5 423.9 L751.5 423.6 L753.5 424.0 L755.4 423.8 L757.4 424.3 L759.5 424.2 L761.6 424.7 L763.7 424.5 L765.7 425.3 L767.6 425.4 L770.4 425.6 L772.9 425.5 L775.2 425.3 L777.6 426.4 L780.3 427.5 L782.4 427.0 L784.8 426.9 L787.3 426.8 L790.0 426.5 L792.1 426.6 L794.3 427.1 L796.6 427.5 L798.9 427.2 L801.4 427.3 L803.6 427.7 L806.0 427.3 L808.5 428.0 L811.0 427.5 L813.2 427.5 L815.1 427.9 L817.7 428.5 L819.4 428.6 L822.0 429.2 L823.9 428.7 L826.2 428.5 L828.7 427.7 L831.2 427.8 L833.6 427.0 L835.7 426.8 L838.3 427.4 L840.5 427.9 L842.6 428.1 L844.8 428.7 L847.1 429.1 L849.5 428.8 L851.9 428.9 L854.0 429.7 L856.4 429.5 L858.4 430.4 L860.8 430.7 L863.0 430.6 L865.4 430.4 L867.8 430.7 L870.0 430.5 L872.4 429.7 L874.4 430.2 L876.8 430.0 L878.9 430.1 L881.3 430.6 L883.7 431.2 L886.0 432.3 L888.3 432.9 L890.5 433.0 L892.8 433.2 L895.1 433.4 L897.3 433.5 L899.6 433.1 L901.8 432.6 L904.3 432.6 L906.5 433.2 L908.8 432.8 L911.2 433.3 L913.5 433.6 L915.7 433.4 L918.1 433.2 L920.4 432.9 L922.6 432.6 L924.8 433.2 L927.1 433.2 L929.5 433.4 L931.9 433.9 L934.0 433.9 L936.4 434.4 L938.6 435.5 L940.8 435.7 L943.1 435.8 L945.4 435.1 L947.7 435.0 L949.8 435.7 L951.9 436.6 L954.5 436.4 L956.5 436.5 L958.9 436.3 L961.3 436.6 L963.8 436.6 L966.0 436.1 L968.4 435.2 L970.7 434.9 L972.9 434.2 L975.1 433.4 L977.3 434.1 L979.5 434.3 L981.8 434.6 L984.2 435.0 L986.3 435.1 L988.4 435.7 L990.6 435.9 L993.0 436.2 L995.7 436.8 L997.7 437.0 L999.9 437.5 L1002.4 437.7 L1004.8 437.6 L1007.2 438.0 L1009.4 437.9 L1011.2 438.1 L1012.5 438.4" fill="none" stroke="#302d2e" stroke-width="1.50" stroke-linejoin="round"/>
</svg>
<text x="106.8" y="428.2" font-size="20.0" text-anchor="end">120</text>
<text x="106.8" y="459.2" font-size="20.0" text-anchor="end">60</text>
<svg x="0" y="454.8" width="1024" height="45.9" viewBox="0 454.8 1024 45.9" overflow="hidden">
<rect x="109.7" y="457.8" width="903.8" height="42.1" fill="none" stroke="#3b3839" stroke-width="1.4"/>
<path d="M239.0 457.8v9.0M239.0 499.9v-9.0M368.0 457.8v9.0M368.0 499.9v-9.0M497.0 457.8v9.0M497.0 499.9v-9.0M626.0 457.8v9.0M626.0 499.9v-9.0M755.0 457.8v9.0M755.0 499.9v-9.0M884.0 457.8v9.0M884.0 499.9v-9.0M109.7 487.5h9.0M1013.5 487.5h-9.0M109.7 475.1h9.0M1013.5 475.1h-9.0M109.7 462.8h9.0M1013.5 462.8h-9.0" stroke="#3b3839" stroke-width="1.4" fill="none"/>
<path d="M110.6 494.0 L112.3 494.1 L114.6 494.7 L117.4 494.6 L120.2 495.4 L122.2 495.2 L124.4 495.3 L126.7 494.9 L128.9 495.0 L131.0 495.0 L132.9 495.1 L135.6 495.7 L137.8 496.0 L140.5 496.8 L142.4 496.7 L144.4 496.6 L146.7 497.2 L149.0 497.3 L151.2 497.0 L153.2 497.2 L155.4 496.3 L157.6 495.9 L159.6 495.1 L161.6 494.5 L163.4 494.3 L166.1 494.1 L168.6 494.3 L171.0 495.2 L173.3 495.0 L175.6 495.2 L178.6 495.5 L180.6 495.3 L182.9 496.4 L185.4 496.7 L188.0 497.3 L190.4 498.0 L192.6 498.1 L194.9 497.8 L197.1 497.1 L199.2 496.4 L201.1 495.8 L202.8 494.9 L205.1 495.2 L207.0 495.6 L209.1 496.1 L211.6 494.9 L214.3 494.1 L216.7 492.7 L219.3 493.7 L221.8 493.8 L223.8 493.7 L226.0 492.6 L228.2 492.2 L230.3 491.9 L232.3 493.3 L234.5 493.4 L236.8 493.0 L239.3 491.5 L242.1 490.5 L244.1 490.9 L246.2 491.1 L248.5 490.7 L250.5 490.9 L252.3 491.4 L254.7 491.8 L257.4 491.8 L259.1 492.4 L261.3 492.8 L263.6 493.4 L266.0 493.2 L268.2 493.5 L270.1 493.9 L273.0 493.8 L275.4 492.9 L277.7 492.3 L280.2 491.1 L282.8 490.2 L285.3 490.3 L287.8 490.4 L290.4 490.5 L292.9 491.1 L295.4 491.9 L298.0 492.2 L300.5 491.7 L303.1 490.8 L305.6 489.5 L308.2 488.4 L310.6 489.0 L313.1 489.8 L315.8 490.2 L317.7 490.6 L319.8 490.7 L321.9 489.7 L324.0 489.9 L325.9 489.7 L328.5 489.5 L330.9 489.9 L333.5 490.3 L335.5 490.1 L337.6 490.6 L339.9 491.1 L341.9 491.2 L343.7 491.1 L346.4 491.3 L348.8 491.1 L351.1 490.1 L353.7 488.7 L356.4 487.9 L358.5 487.8 L360.6 488.4 L362.9 488.9 L365.2 488.6 L367.1 488.8 L369.0 488.2 L371.0 488.1 L373.1 488.3 L375.3 488.2 L377.3 488.4 L379.4 488.4 L381.6 489.1 L383.9 489.5 L386.0 489.6 L388.0 490.2 L390.2 490.1 L392.1 490.3 L394.1 490.2 L396.0 490.9 L398.2 490.6 L400.2 490.9 L402.3 490.5 L404.6 490.8 L406.8 490.6 L408.9 490.0 L410.9 490.4 L413.1 489.6 L415.1 488.7 L417.1 488.0 L419.0 487.1 L421.0 487.0 L423.0 486.5 L425.1 486.3 L427.1 486.2 L429.2 486.4 L431.2 486.4 L433.3 486.2 L435.4 486.7 L437.4 487.3 L439.4 486.9 L441.3 487.3 L443.8 486.6 L446.0 485.2 L449.0 484.9 L450.9 484.2 L453.1 484.1 L455.5 484.3 L458.0 484.1 L460.4 484.1 L462.5 484.4 L464.2 484.5 L467.1 484.1 L469.3 484.0 L471.0 483.9 L473.0 484.3 L475.1 484.2 L477.3 484.5 L479.4 485.0 L481.4 484.6 L483.4 484.7 L485.3 484.1 L487.4 483.0 L489.6 482.6 L491.6 483.1 L493.7 483.2 L496.0 483.0 L498.2 482.5 L500.3 483.3 L502.3 483.1 L504.5 483.4 L506.5 483.5 L508.5 483.7 L510.4 484.0 L512.4 483.6 L514.4 483.2 L516.5 482.8 L518.5 482.5 L520.6 482.3 L522.6 482.0 L524.6 481.3 L526.7 480.8 L528.7 480.4 L530.8 480.3 L532.8 480.7 L534.8 480.2 L536.7 481.0 L538.7 481.6 L540.7 481.6 L542.9 481.9 L544.9 481.2 L547.1 481.2 L549.4 481.0 L551.6 480.2 L553.7 479.9 L555.6 479.9 L558.6 480.3 L561.0 480.4 L563.2 480.5 L565.3 479.2 L568.3 477.7 L570.0 478.1 L572.1 477.8 L574.4 477.2 L576.8 478.0 L579.2 477.8 L581.5 477.2 L583.5 477.6 L585.9 477.5 L588.2 476.7 L590.2 476.6 L592.1 475.9 L593.7 475.9 L596.5 476.6 L598.8 477.1 L600.8 476.3 L602.9 474.9 L605.1 474.4 L607.3 474.9 L609.7 476.1 L612.7 476.5 L614.6 475.4 L616.7 475.5 L619.1 474.3 L621.4 473.6 L623.5 473.5 L625.4 472.5 L628.3 473.4 L630.6 473.7 L633.0 474.7 L635.0 474.1 L636.9 474.0 L639.1 473.2 L641.9 473.3 L643.9 472.9 L646.2 472.0 L648.6 471.8 L651.2 471.3 L653.7 470.7 L656.2 469.8 L658.4 470.2 L660.8 469.5 L663.0 469.4 L665.1 469.4 L667.2 470.3 L669.2 470.1 L671.1 470.0 L673.3 470.8 L675.2 470.4 L677.2 470.6 L679.1 471.1 L681.3 470.7 L683.3 471.2 L685.4 470.1 L687.7 470.1 L689.9 469.4 L692.0 469.5 L694.0 469.6 L696.1 469.0 L698.1 469.8 L700.0 470.1 L702.0 470.4 L704.1 470.3 L706.1 470.7 L708.1 470.4 L710.3 471.0 L712.5 470.8 L714.7 471.3 L716.8 470.7 L719.0 471.4 L721.2 471.3 L723.5 470.8 L725.6 471.2 L727.7 470.9 L729.5 470.6 L732.4 470.9 L734.7 471.0 L737.1 469.9 L739.2 470.0 L741.3 468.8 L743.6 469.1 L746.0 468.6 L748.1 469.1 L750.2 469.0 L752.4 469.9 L754.8 470.1 L757.4 470.8 L759.4 470.8 L761.6 470.7 L764.0 471.1 L766.3 470.5 L768.6 470.6 L770.8 470.6 L772.7 470.7 L775.1 470.4 L777.1 469.7 L779.0 469.5 L780.9 469.4 L782.8 469.4 L784.8 469.0 L786.8 469.2 L788.7 469.0 L790.8 469.5 L793.0 470.0 L794.9 469.9 L796.9 469.7 L798.9 470.5 L801.0 470.0 L803.3 470.1 L805.7 470.9 L807.7 470.8 L810.0 470.6 L812.3 470.4 L814.8 470.7 L817.2 470.7 L819.5 470.8 L821.6 471.2 L823.5 471.2 L826.0 470.9 L828.0 470.4 L829.7 470.8 L831.5 470.7 L833.6 470.7 L835.6 470.4 L837.8 471.2 L840.1 470.8 L842.3 471.4 L844.4 471.5 L846.3 471.7 L848.5 471.5 L850.4 471.5 L852.1 471.5 L854.0 471.4 L856.2 471.4 L858.5 471.4 L860.8 471.1 L863.1 471.7 L865.3 471.9 L867.4 472.6 L869.7 473.0 L872.3 472.7 L874.4 472.9 L876.7 472.9 L879.2 473.5 L881.6 472.9 L883.9 472.9 L886.0 473.1 L888.6 473.8 L890.8 473.5 L892.9 473.9 L895.1 474.0 L897.4 474.5 L899.7 474.5 L902.0 474.6 L904.3 474.4 L906.6 474.2 L908.9 473.4 L911.1 473.4 L913.4 472.6 L915.7 473.0 L917.9 474.5 L920.2 475.1 L922.5 474.9 L924.8 475.4 L927.1 474.8 L929.4 474.1 L931.7 474.1 L934.0 474.5 L936.3 474.3 L938.5 474.8 L940.8 474.6 L943.1 475.2 L945.5 475.4 L947.9 475.1 L950.0 475.6 L952.4 475.9 L954.4 476.0 L956.8 476.3 L958.9 475.6 L961.3 475.1 L963.7 474.6 L966.0 474.5 L968.3 473.9 L970.6 474.3 L972.8 474.5 L975.1 474.3 L977.4 474.2 L979.8 474.0 L982.1 474.4 L984.2 473.8 L986.7 474.6 L988.9 474.7 L991.1 475.1 L993.1 476.1 L995.1 476.6 L998.0 477.7 L999.8 477.7 L1002.0 478.0 L1004.4 477.5 L1006.9 478.1 L1009.2 478.1 L1011.1 478.1 L1012.5 478.0" fill="none" stroke="#302d2e" stroke-width="1.50" stroke-linejoin="round"/>
</svg>
<text x="106.5" y="474.5" font-size="20.0" text-anchor="end">120</text>
<text x="106.5" y="505.5" font-size="20.0" text-anchor="end">60</text>
<line x1="312.0" y1="211.0" x2="312.0" y2="272.0" stroke="#3b3839" stroke-width="1.5" stroke-dasharray="6.3 9.80"/>
<line x1="371.7" y1="209.8" x2="371.7" y2="318.0" stroke="#3b3839" stroke-width="1.5" stroke-dasharray="6.3 9.80"/>
<line x1="443.3" y1="207.8" x2="443.3" y2="363.0" stroke="#3b3839" stroke-width="1.5" stroke-dasharray="6.3 9.80"/>
<line x1="536.4" y1="202.2" x2="536.4" y2="419.5" stroke="#3b3839" stroke-width="1.5" stroke-dasharray="6.3 9.80"/>
<line x1="665.8" y1="196.5" x2="665.8" y2="460.0" stroke="#3b3839" stroke-width="1.5" stroke-dasharray="6.3 9.80"/>
<line x1="790.4" y1="191.4" x2="790.4" y2="499.0" stroke="#3b3839" stroke-width="1.5" stroke-dasharray="6.3 9.94"/>
<text x="110.2" y="521.2" font-size="24.2" text-anchor="middle">0</text>
<text x="236.5" y="521.2" font-size="24.2" text-anchor="middle">0.05</text>
<text x="364.6" y="521.2" font-size="24.2" text-anchor="middle">0.1</text>
<text x="494.9" y="521.2" font-size="24.2" text-anchor="middle">0.15</text>
<text x="623.2" y="521.2" font-size="24.2" text-anchor="middle">0.2</text>
<text x="752.4" y="521.2" font-size="24.2" text-anchor="middle">0.25</text>
<text x="881.5" y="521.2" font-size="24.2" text-anchor="middle">0.3</text>
<text x="997.6" y="521.2" font-size="24.2" text-anchor="middle">0.35</text>
<text x="561.2" y="544.6" font-size="24.2" text-anchor="middle">Time (s)</text>
</svg>
</body></html>
